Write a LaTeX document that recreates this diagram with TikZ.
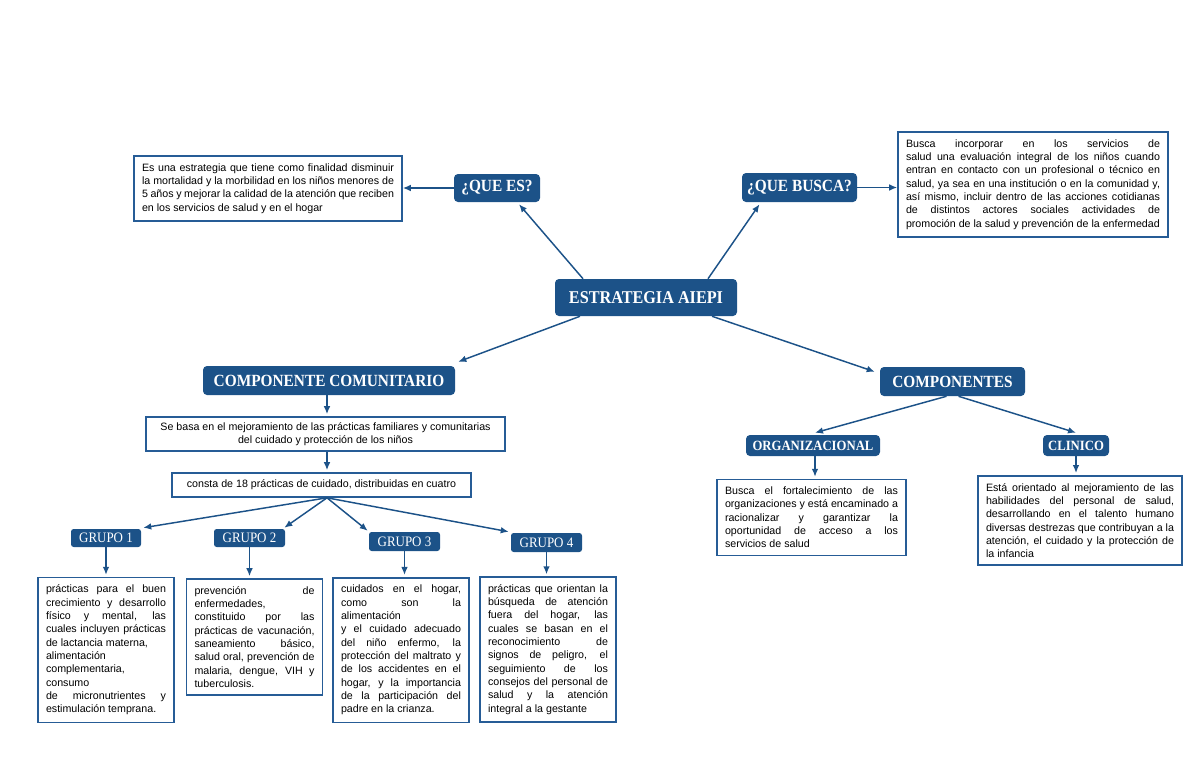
\documentclass[tikz,border=0pt]{standalone}
\usepackage{fontspec}
\setmainfont{Liberation Sans}
\newfontfamily\titulofont[FakeStretch=0.9]{Liberation Serif}
\usetikzlibrary{arrows.meta,calc}
\definecolor{azul}{RGB}{28,82,136}
\definecolor{borde}{RGB}{38,92,150}
\tikzset{
  titulo/.style={fill=azul, text=white, rounded corners=3pt, inner sep=0pt, align=center,
    font=\titulofont\bfseries\fontsize{12.8}{14}\selectfont},
  subtitulo/.style={titulo, font=\titulofont\bfseries\fontsize{10.6}{12}\selectfont},
  grupo/.style={titulo, rounded corners=2pt, font=\titulofont\fontsize{10.8}{12}\selectfont},
  caja/.style={draw=borde, line width=1.2pt, fill=white, align=justify,
    inner xsep=6pt, inner ysep=5.5pt, font=\fontsize{8}{10}\selectfont},
  flecha/.style={draw=azul, line width=1.1pt, -{Latex[length=6pt,width=5pt]}},
}
\tolerance=10000
\hyphenpenalty=10000
\exhyphenpenalty=10000
\begin{document}
\begin{tikzpicture}[x=0.75pt,y=0.75pt,yscale=-1,xscale=1]
        \path[use as bounding box] (0,0) rectangle (1200,776);

        % Title Nodes
        \node[titulo, minimum width=136.5pt, minimum height=27.75pt, font=\titulofont\bfseries\fontsize{13.5}{15}\selectfont] (aiepi) at (646,297.5) {ESTRATEGIA AIEPI};
        \node[titulo, minimum width=64.5pt, minimum height=21pt] (quees) at (497,188) {¿QUE ES?};
        \node[titulo, minimum width=86.25pt, minimum height=21.75pt] (quebusca) at (799.5,187.5) {¿QUE BUSCA?};
        \node[titulo, minimum width=189pt, minimum height=21.75pt] (comunitario) at (329,380.5) {COMPONENTE COMUNITARIO};
        \node[titulo, minimum width=108.75pt, minimum height=21.75pt] (componentes) at (952.5,381.5) {COMPONENTES};
        \node[subtitulo, minimum width=100.5pt, minimum height=15.75pt] (organizacional) at (813,445.5) {ORGANIZACIONAL};
        \node[subtitulo, minimum width=49.5pt, minimum height=15.75pt] (clinico) at (1076,445.5) {CLINICO};
        \node[grupo, minimum width=52.5pt, minimum height=13.5pt] (grupoa) at (106,538) {GRUPO 1};
        \node[grupo, minimum width=53.25pt, minimum height=13.5pt] (grupob) at (249.5,538) {GRUPO 2};
        \node[grupo, minimum width=53.25pt, minimum height=14.25pt] (grupoc) at (404.5,541.5) {GRUPO 3};
        \node[grupo, minimum width=53.25pt, minimum height=14.25pt] (grupod) at (546.5,542.5) {GRUPO 4};

        % Text Nodes
        \node[caja, text width=189pt] (defquees) at (268,188.5) {Es una estrategia que tiene como finalidad disminuir\linebreak la mortalidad y la morbilidad en los niños menores de\linebreak 5 años y mejorar la calidad de la atención que reciben\linebreak en los servicios de salud y en el hogar};
        \node[caja, text width=190.5pt] (defbusca) at (1033,184.5) {Busca incorporar en los servicios de\linebreak salud una evaluación integral de los niños cuando\linebreak entran en contacto con un profesional o técnico en\linebreak salud, ya sea en una institución o en la comunidad y,\linebreak así mismo, incluir dentro de las acciones cotidianas\linebreak de distintos actores sociales actividades de\linebreak promoción de la salud y prevención de la enfermedad};
        \node[caja, align=center, minimum width=269pt, minimum height=25.5pt, inner ysep=3pt] (basa) at (325.5,434) {Se basa en el mejoramiento de las prácticas familiares y comunitarias\\del cuidado y protección de los niños};
        \node[caja, align=center, minimum width=224pt, minimum height=18pt, inner ysep=2pt] (consta) at (321.5,485) {consta de 18 prácticas de cuidado, distribuidas en cuatro};
        \node[caja, text width=90pt] (textoa) at (106,650) {prácticas para el buen\linebreak crecimiento y desarrollo\linebreak físico y mental, las\linebreak cuales incluyen prácticas\linebreak de lactancia materna,\newline alimentación\newline complementaria,\newline consumo\newline de micronutrientes y\linebreak estimulación temprana.};
        \node[caja, text width=90pt] (textob) at (254.5,637) {prevención de\linebreak enfermedades,\newline constituido por las\linebreak prácticas de vacunación,\linebreak saneamiento básico,\linebreak salud oral, prevención de\linebreak malaria, dengue, VIH y\linebreak tuberculosis.};
        \node[caja, text width=90pt] (textoc) at (401,650) {cuidados en el hogar,\linebreak como son la\linebreak alimentación\newline y el cuidado adecuado\linebreak del niño enfermo, la\linebreak protección del maltrato y\linebreak de los accidentes en el\linebreak hogar, y la importancia\linebreak de la participación del\linebreak padre en la crianza.};
        \node[caja, text width=90pt] (textod) at (548,649.5) {prácticas que orientan la\linebreak búsqueda de atención\linebreak fuera del hogar, las\linebreak cuales se basan en el\linebreak reconocimiento de\linebreak signos de peligro, el\linebreak seguimiento de los\linebreak consejos del personal de\linebreak salud y la atención\linebreak integral a la gestante};
        \node[caja, text width=129.75pt] (textoorg) at (811.5,517.5) {Busca el fortalecimiento de las\linebreak organizaciones y está encaminado a\linebreak racionalizar y garantizar la\linebreak oportunidad de acceso a los\linebreak servicios de salud};
        \node[caja, text width=141pt] (textoclin) at (1080,520.5) {Está orientado al mejoramiento de las\linebreak habilidades del personal de salud,\linebreak desarrollando en el talento humano\linebreak diversas destrezas que contribuyan a la\linebreak atención, el cuidado y la protección de\linebreak la infancia};

        % Arrows
        \draw[flecha] ($(aiepi.north)+(-63,0)$) -- ($(quees.south)+(22,2)$);
        \draw[flecha] ($(aiepi.north)+(62,0)$) -- ($(quebusca.south)+(-40,2)$);
        \draw[flecha] (quees.west) -- (defquees.east |- quees.west);
        \draw[flecha] (quebusca.east) -- (defbusca.west |- quebusca.east);
        \draw[flecha] ($(aiepi.south)+(-66,0)$) -- ($(comunitario.north east)+(3,-4)$);
        \draw[flecha] ($(aiepi.south)+(66,0)$) -- ($(componentes.north west)+(-5,5)$);
        \draw[flecha] ($(comunitario.south)+(-2,0)$) -- ($(comunitario.south |- basa.north)+(-2,-2)$);
        \draw[flecha] ($(basa.south)+(1.5,0)$) -- ($(basa.south |- consta.north)+(1.5,-2)$);
        \coordinate (reparto) at ($(consta.south)+(5.5,0)$);
        \draw[flecha] (reparto) -- ($(grupoa.north east)+(2,-1)$);
        \draw[flecha] (reparto) -- ($(grupob.north east)+(-1,-1)$);
        \draw[flecha] (reparto) -- ($(grupoc.north west)+(-1,-1)$);
        \draw[flecha] (reparto) -- ($(grupod.north west)+(-2,-1)$);
        \draw[flecha] (grupoa.south) -- ($(grupoa.south |- textoa.north)+(0,-2)$);
        \draw[flecha] (grupob.south) -- ($(grupob.south |- textob.north)+(0,-2)$);
        \draw[flecha] (grupoc.south) -- ($(grupoc.south |- textoc.north)+(0,-2)$);
        \draw[flecha] (grupod.south) -- ($(grupod.south |- textod.north)+(0,-2)$);
        \draw[flecha] ($(componentes.south)+(-6,0)$) -- ($(organizacional.north)+(2,-2)$);
        \draw[flecha] ($(componentes.south)+(6,0)$) -- ($(clinico.north)+(0,-2)$);
        \draw[flecha] ($(organizacional.south)+(2,0)$) -- ($(organizacional.south |- textoorg.north)+(2,-2)$);
        \draw[flecha] (clinico.south) -- ($(clinico.south |- textoclin.north)+(0,-2)$);
    \end{tikzpicture}
\end{document}
